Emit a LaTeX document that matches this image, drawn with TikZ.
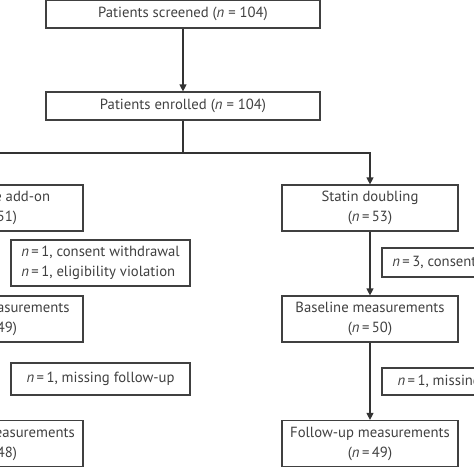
\documentclass[tikz,border=0pt]{standalone}
\usepackage{fontspec}
\setmainfont{PT Sans}
\usetikzlibrary{arrows.meta}
\tikzset{
  box/.style={draw=black!75, line width=1.2pt, text=black!75, align=center,
    minimum width=176pt, minimum height=46pt, inner sep=0pt,
    font=\fontsize{14.7}{20}\selectfont},
  widebox/.style={box, minimum width=274pt, minimum height=28pt},
  exclbox/.style={box, minimum width=179pt},
  arr/.style={draw=black!80, line width=1.2pt, -{Triangle[length=7pt,width=7pt]}},
  link/.style={draw=black!80, line width=1.2pt}
}
\newcommand{\nn}{\textit{n}\,=\,}
\begin{document}
\begin{tikzpicture}[x=1pt,y=-1pt]
 \useasboundingbox (0,0) rectangle (474,474);
 \clip (0,0) rectangle (474,474);
 % top of the chart
 \node[widebox] (screen) at (183,14) {Patients screened (\textit{n} = 104)};
 \node[widebox] (enrol) at (183,106) {Patients enrolled (\textit{n} = 104)};
 \coordinate (split) at (183,153);
 % the two arms
 \node[box] (ezet) at (-5,208) {Ezetimibe add-on\\(\nn51)};
 \node[box] (statin) at (370,208) {Statin doubling\\(\nn53)};
 \node[box] (baseL) at (-5,319) {Baseline measurements\\(\nn49)};
 \node[box] (baseR) at (370,319) {Baseline measurements\\(\nn50)};
 \node[box] (folL) at (-5,443.5) {Follow-up measurements\\(\nn48)};
 \node[box] (folR) at (370,443.5) {Follow-up measurements\\(\nn49)};
 % drop-outs
 \node[exclbox, align=left, minimum height=46pt] (exclL1) at (100.5,263)
   {\nn1, consent withdrawal\\\nn1, eligibility violation};
 \node[exclbox, align=left, minimum height=29pt] (exclR1) at (471.5,262.5)
   {\nn3, consent withdrawal};
 \node[exclbox, minimum height=32pt] (exclL2) at (100.5,379)
   {\nn1, missing follow-up};
 \node[exclbox, minimum height=27pt] (exclR2) at (471.5,381.5)
   {\nn1, missing follow-up};
 % connectors
 \draw[arr] (screen) -- (enrol);
 \draw[link] (enrol) -- (split);
 \draw[arr] (split) -| (ezet);
 \draw[arr] (split) -| (statin);
 \draw[arr] (ezet) -- (baseL);
 \draw[arr] (baseL) -- (folL);
 \draw[arr] (statin) -- (baseR);
 \draw[arr] (baseR) -- (folR);
\end{tikzpicture}
\end{document}
